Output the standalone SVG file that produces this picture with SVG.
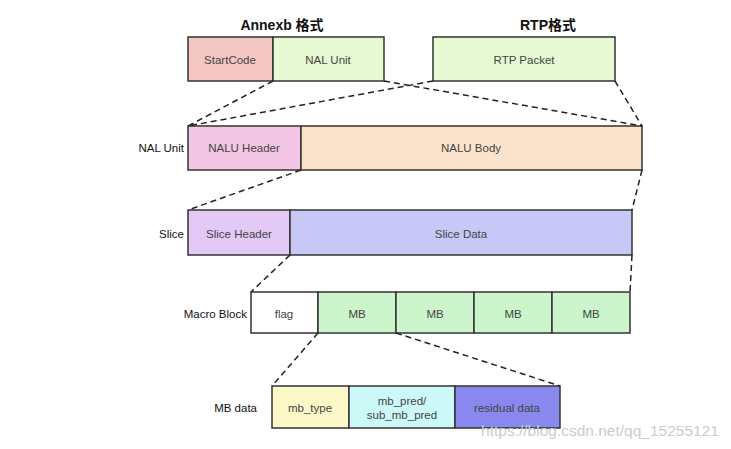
<svg xmlns="http://www.w3.org/2000/svg" width="731" height="449" viewBox="0 0 731 449">
<style>
rect{stroke:#333;stroke-width:1.5}
text{font-family:"Liberation Sans",Arial,sans-serif;font-size:11.5px;fill:#444;text-anchor:middle;dominant-baseline:central}
.l{fill:#111;text-anchor:end}
.t{font-family:"Liberation Sans","Noto Sans CJK SC",sans-serif;font-size:14px;font-weight:bold;fill:#111}
.d{stroke:#222;stroke-width:1.5;stroke-dasharray:6,4;fill:none}
</style>
<rect width="731" height="449" fill="#fff" style="stroke:none"/>
<text class="t" x="282" y="25">Annexb 格式</text>
<text class="t" x="548" y="25">RTP格式</text>
<g id="annexb">
<rect x="188" y="37" width="85" height="44" fill="#f4c7c3"/><text x="230" y="60">StartCode</text>
<rect x="273" y="37" width="111" height="44" fill="#e6f9d2"/><text x="328" y="60">NAL Unit</text>
</g>
<g id="rtp"><rect x="433" y="37" width="182" height="44" fill="#e6f9d2"/><text x="524" y="60">RTP Packet</text></g>
<g id="nal">
<text class="l" x="184" y="148">NAL Unit</text>
<rect x="188" y="126" width="113" height="44" fill="#f2c6e4"/><text x="244" y="148">NALU Header</text>
<rect x="301" y="126" width="341" height="44" fill="#fbe3cb"/><text x="471" y="148">NALU Body</text>
</g>
<g id="slice">
<text class="l" x="184" y="234">Slice</text>
<rect x="188" y="210" width="102" height="45" fill="#e3c9f5"/><text x="239" y="234">Slice Header</text>
<rect x="290" y="210" width="342" height="45" fill="#c8c8f7"/><text x="461" y="234">Slice Data</text>
</g>
<g id="mb">
<text class="l" x="247" y="314">Macro Block</text>
<rect x="251" y="292" width="67" height="41" fill="#fff"/><text x="284" y="314">flag</text>
<rect x="318" y="292" width="78" height="41" fill="#ccf5cc"/><text x="357" y="314">MB</text>
<rect x="396" y="292" width="78" height="41" fill="#ccf5cc"/><text x="435" y="314">MB</text>
<rect x="474" y="292" width="78" height="41" fill="#ccf5cc"/><text x="513" y="314">MB</text>
<rect x="552" y="292" width="78" height="41" fill="#ccf5cc"/><text x="591" y="314">MB</text>
</g>
<g id="mbdata">
<text class="l" x="257" y="408">MB data</text>
<rect x="272" y="386" width="77" height="42" fill="#fdf8c8"/><text x="310" y="408">mb_type</text>
<rect x="349" y="386" width="106" height="42" fill="#cdf8f8"/><text x="402" y="401">mb_pred/</text><text x="402" y="415">sub_mb_pred</text>
<rect x="455" y="386" width="105" height="42" fill="#8888ee"/><text x="507" y="408">residual data</text>
</g>
<g id="connectors" class="d">
<path class="d" d="M273 81L188 126M384 81L642 126M433 81L188 126M615 81L642 126M301 170L188 210M642 170L632 210M290 255L251 292M632 255L630 292M318 333L272 386M396 333L560 386"/>
</g>
<text x="600" y="430" style="fill:#ccc;font-size:15.5px">https://blog.csdn.net/qq_15255121</text>
</svg>
